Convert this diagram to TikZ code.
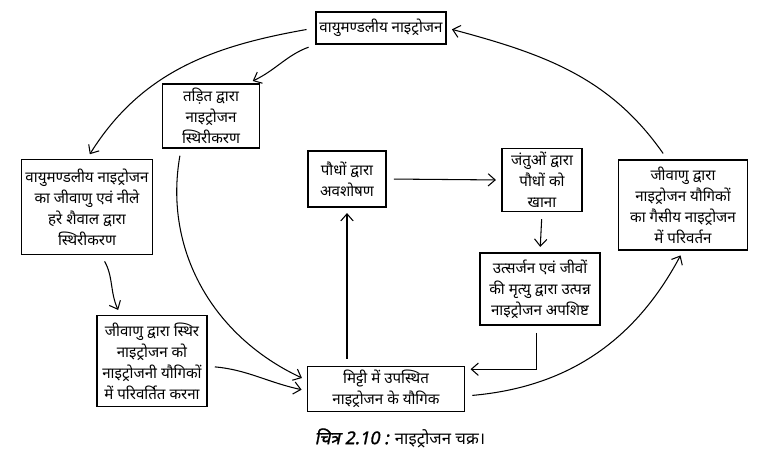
\documentclass[tikz,border=0pt]{standalone}
\usepackage{fontspec}
\setmainfont[Script=Devanagari]{Noto Sans}
\newfontfamily\capfont[Script=Devanagari,FakeSlant=0.2,FakeBold=1.5]{Noto Sans}
\usepackage{tikz}
\usetikzlibrary{arrows.meta}

\begin{document}
\begin{tikzpicture}[x=0.02cm,y=0.02cm,
  box/.style={draw,line width=0.9pt,align=center,inner sep=2pt,font=\fontsize{8.6}{12}\selectfont},
  arr/.style={-{Straight Barb[length=4pt,width=7pt]},line width=0.6pt,shorten <=4pt,shorten >=3pt}]
\useasboundingbox (0,0) rectangle (768,459);
\node[box,minimum width=2.52cm,minimum height=0.64cm] (top) at (381,431) {वायुमण्डलीय नाइट्रोजन};
\node[box,minimum width=1.94cm,minimum height=1.28cm] (tadit) at (211,343) {तड़ित द्वारा\\नाइट्रोजन\\स्थिरीकरण};
\node[box,minimum width=2.62cm,minimum height=1.9cm] (vayu) at (87,252) {वायुमण्डलीय नाइट्रोजन\\का जीवाणु एवं नीले\\हरे शैवाल द्वारा\\स्थिरीकरण};
\node[box,minimum width=1.56cm,minimum height=1.12cm] (avash) at (347,280) {पौधों द्वारा\\अवशोषण};
\node[box,minimum width=1.6cm,minimum height=1.22cm] (jantu) at (542,279) {जंतुओं द्वारा\\पौधों को\\खाना};
\node[box,minimum width=2.58cm,minimum height=1.8cm] (gas) at (683,254) {जीवाणु द्वारा\\नाइट्रोजन यौगिकों\\का गैसीय नाइट्रोजन\\में परिवर्तन};
\node[box,minimum width=2.4cm,minimum height=1.44cm] (utsarjan) at (540,170) {उत्सर्जन एवं जीवों\\की मृत्यु द्वारा उत्पन्न\\नाइट्रोजन अपशिष्ट};
\node[box,minimum width=2.2cm,minimum height=1.82cm] (sthir) at (152,98) {जीवाणु द्वारा स्थिर\\नाइट्रोजन को\\नाइट्रोजनी यौगिकों\\में परिवर्तित करना};
\node[box,minimum width=3.14cm,minimum height=0.9cm] (mitti) at (386,70) {मिट्टी में उपस्थित\\नाइट्रोजन के यौगिक};
\node (cap) at (400,21) {{\capfont\fontsize{10}{12}\selectfont चित्र 2.10 :} {\fontsize{9.5}{12}\selectfont नाइट्रोजन चक्र।}};
% outer cycle
\draw[arr,shorten <=5pt] (top.west) to[out=190,in=58] (vayu.north);
\draw[arr] (top.south west) to[out=200,in=25] ([xshift=-7pt]tadit.north east);
\draw[arr] ([xshift=-17pt]tadit.south) to[out=-100,in=155] ([yshift=5pt]mitti.west);
\draw[arr] ([xshift=8pt]vayu.south) to[out=-60,in=115] ([xshift=-18pt]sthir.north);
\draw[arr] ([yshift=-3pt]sthir.east) to[out=-5,in=168] ([yshift=-1pt]mitti.west);
\draw[arr] ([yshift=-4pt]mitti.east) to[out=5,in=-118] (gas.south);
\draw[arr] ([xshift=-9pt]gas.north) to[out=125,in=-15] (top.east);
% inner part
\draw[arr] (mitti.north -| avash.south) -- (avash.south);
\draw[arr] (avash.east) -- (jantu.west);
\draw[arr] (jantu.south) -- (utsarjan.north);
\draw[arr] ([xshift=-2pt]utsarjan.south) |- ([yshift=-2pt]mitti.north east);
\end{tikzpicture}
\end{document}
